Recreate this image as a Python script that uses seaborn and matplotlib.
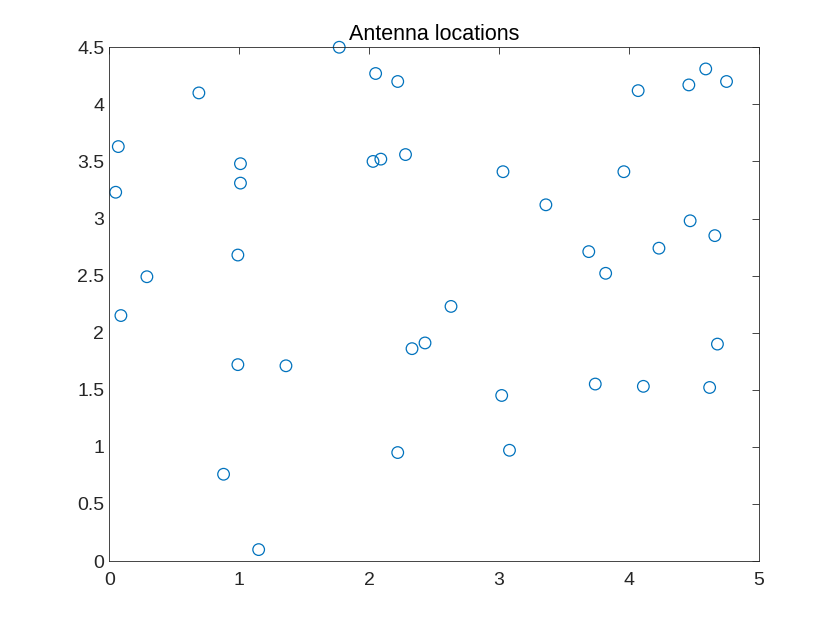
import matplotlib
matplotlib.use("Agg")
import matplotlib.pyplot as plt
import seaborn as sns

x = [0.07, 0.05, 0.09, 0.29, 0.69, 1.01, 1.01, 0.99, 0.99, 1.36, 0.88, 1.15,
     1.77, 2.05, 2.22, 2.03, 2.09, 2.28, 2.33, 2.43, 2.63, 2.22, 3.02, 3.08,
     3.03, 3.36, 3.69, 3.82, 3.74, 3.96, 4.07, 4.11, 4.23, 4.46, 4.59, 4.75,
     4.47, 4.66, 4.68, 4.62]
y = [3.63, 3.23, 2.15, 2.49, 4.10, 3.48, 3.31, 2.68, 1.72, 1.71, 0.76, 0.10,
     4.50, 4.27, 4.20, 3.50, 3.52, 3.56, 1.86, 1.91, 2.23, 0.95, 1.45, 0.97,
     3.41, 3.12, 2.71, 2.52, 1.55, 3.41, 4.12, 1.53, 2.74, 4.17, 4.31, 4.20,
     2.98, 2.85, 1.90, 1.52]

sns.set_style("white")
plt.rcParams['font.family'] = ['Liberation Sans', 'DejaVu Sans']
fig = plt.figure(figsize=(8.4, 6.3), dpi=100)
ax = fig.add_axes([0.13, 0.1095, 0.7736, 0.8155])
sns.scatterplot(x=x, y=y, ax=ax, s=70, facecolors='none', edgecolor='#0072BD',
                linewidth=0.9, clip_on=False)
ax.set_xlim(0, 5)
ax.set_ylim(0, 4.5)
ax.set_xticks([0, 1, 2, 3, 4, 5])
ax.set_yticks([0, 0.5, 1, 1.5, 2, 2.5, 3, 3.5, 4, 4.5])
ax.set_yticklabels(['0', '0.5', '1', '1.5', '2', '2.5', '3', '3.5', '4', '4.5'])
ax.tick_params(direction='in', top=True, right=True, labelsize=14, colors='#262626',
               length=5, width=0.6)
ax.tick_params(axis='x', pad=8)
for s in ax.spines.values():
    s.set_color('#262626')
    s.set_linewidth(0.6)
ax.set_title("Antenna locations", fontsize=15.5, color='black', pad=5)
fig.savefig("out.png", dpi=100)
